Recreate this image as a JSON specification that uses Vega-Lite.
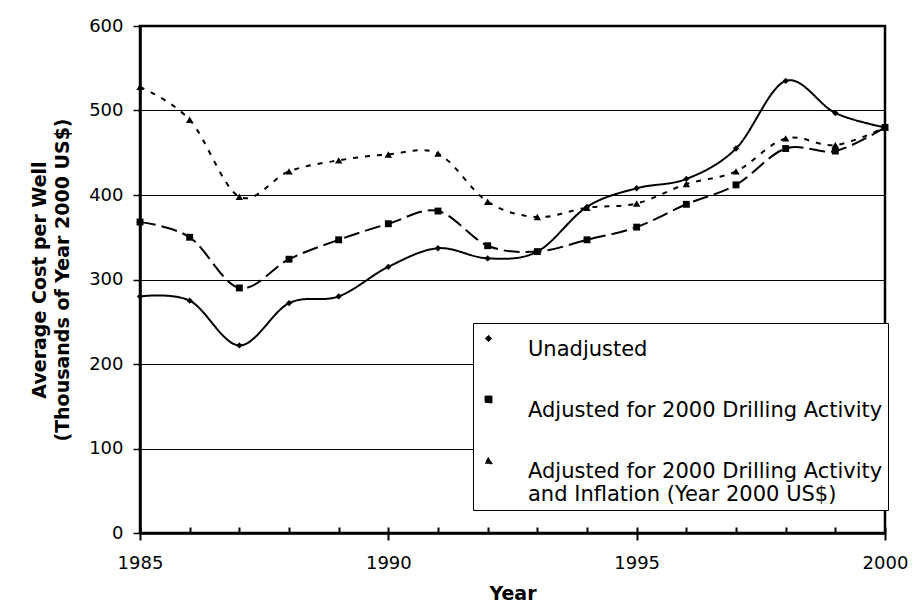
{
  "$schema": "https://vega.github.io/schema/vega-lite/v6.json",
  "autosize": "none",
  "width": 745,
  "height": 507,
  "padding": {"left": 140, "top": 26, "right": 32, "bottom": 69},
  "background": "white",
  "config": {
    "view": {"stroke": "black", "strokeWidth": 2.5},
    "font": "DejaVu Sans",
    "axis": {
      "labelFont": "DejaVu Sans",
      "labelFontSize": 18,
      "labelColor": "black",
      "titleFont": "DejaVu Sans",
      "titleFontSize": 19,
      "titleFontWeight": "bold",
      "titleColor": "black",
      "domainColor": "black",
      "tickColor": "black"
    },
    "legend": {
      "labelFont": "DejaVu Sans",
      "labelFontSize": 21,
      "labelColor": "black"
    }
  },
  "data": {
    "values": [
      {"year": 1985, "series": "Unadjusted", "cost": 280},
      {"year": 1986, "series": "Unadjusted", "cost": 275},
      {"year": 1987, "series": "Unadjusted", "cost": 222},
      {"year": 1988, "series": "Unadjusted", "cost": 272},
      {"year": 1989, "series": "Unadjusted", "cost": 280},
      {"year": 1990, "series": "Unadjusted", "cost": 315},
      {"year": 1991, "series": "Unadjusted", "cost": 337},
      {"year": 1992, "series": "Unadjusted", "cost": 325},
      {"year": 1993, "series": "Unadjusted", "cost": 333},
      {"year": 1994, "series": "Unadjusted", "cost": 386},
      {"year": 1995, "series": "Unadjusted", "cost": 408},
      {"year": 1996, "series": "Unadjusted", "cost": 419},
      {"year": 1997, "series": "Unadjusted", "cost": 455},
      {"year": 1998, "series": "Unadjusted", "cost": 535},
      {"year": 1999, "series": "Unadjusted", "cost": 497},
      {"year": 2000, "series": "Unadjusted", "cost": 480},
      {"year": 1985, "series": "Adjusted for 2000 Drilling Activity", "cost": 368},
      {"year": 1986, "series": "Adjusted for 2000 Drilling Activity", "cost": 350},
      {"year": 1987, "series": "Adjusted for 2000 Drilling Activity", "cost": 290},
      {"year": 1988, "series": "Adjusted for 2000 Drilling Activity", "cost": 324},
      {"year": 1989, "series": "Adjusted for 2000 Drilling Activity", "cost": 347},
      {"year": 1990, "series": "Adjusted for 2000 Drilling Activity", "cost": 366},
      {"year": 1991, "series": "Adjusted for 2000 Drilling Activity", "cost": 381},
      {"year": 1992, "series": "Adjusted for 2000 Drilling Activity", "cost": 340},
      {"year": 1993, "series": "Adjusted for 2000 Drilling Activity", "cost": 333},
      {"year": 1994, "series": "Adjusted for 2000 Drilling Activity", "cost": 347},
      {"year": 1995, "series": "Adjusted for 2000 Drilling Activity", "cost": 362},
      {"year": 1996, "series": "Adjusted for 2000 Drilling Activity", "cost": 389},
      {"year": 1997, "series": "Adjusted for 2000 Drilling Activity", "cost": 412},
      {"year": 1998, "series": "Adjusted for 2000 Drilling Activity", "cost": 455},
      {"year": 1999, "series": "Adjusted for 2000 Drilling Activity", "cost": 452},
      {"year": 2000, "series": "Adjusted for 2000 Drilling Activity", "cost": 480},
      {"year": 1985, "series": "Adjusted for 2000 Drilling Activity and Inflation (Year 2000 US$)", "cost": 528},
      {"year": 1986, "series": "Adjusted for 2000 Drilling Activity and Inflation (Year 2000 US$)", "cost": 489},
      {"year": 1987, "series": "Adjusted for 2000 Drilling Activity and Inflation (Year 2000 US$)", "cost": 398},
      {"year": 1988, "series": "Adjusted for 2000 Drilling Activity and Inflation (Year 2000 US$)", "cost": 428},
      {"year": 1989, "series": "Adjusted for 2000 Drilling Activity and Inflation (Year 2000 US$)", "cost": 441},
      {"year": 1990, "series": "Adjusted for 2000 Drilling Activity and Inflation (Year 2000 US$)", "cost": 448},
      {"year": 1991, "series": "Adjusted for 2000 Drilling Activity and Inflation (Year 2000 US$)", "cost": 449},
      {"year": 1992, "series": "Adjusted for 2000 Drilling Activity and Inflation (Year 2000 US$)", "cost": 392},
      {"year": 1993, "series": "Adjusted for 2000 Drilling Activity and Inflation (Year 2000 US$)", "cost": 374},
      {"year": 1994, "series": "Adjusted for 2000 Drilling Activity and Inflation (Year 2000 US$)", "cost": 385},
      {"year": 1995, "series": "Adjusted for 2000 Drilling Activity and Inflation (Year 2000 US$)", "cost": 390},
      {"year": 1996, "series": "Adjusted for 2000 Drilling Activity and Inflation (Year 2000 US$)", "cost": 413},
      {"year": 1997, "series": "Adjusted for 2000 Drilling Activity and Inflation (Year 2000 US$)", "cost": 428},
      {"year": 1998, "series": "Adjusted for 2000 Drilling Activity and Inflation (Year 2000 US$)", "cost": 467},
      {"year": 1999, "series": "Adjusted for 2000 Drilling Activity and Inflation (Year 2000 US$)", "cost": 459},
      {"year": 2000, "series": "Adjusted for 2000 Drilling Activity and Inflation (Year 2000 US$)", "cost": 480}
    ]
  },
  "encoding": {
    "x": {
      "field": "year",
      "type": "quantitative",
      "scale": {"domain": [1985, 2000], "nice": false, "zero": false},
      "axis": null
    },
    "y": {
      "field": "cost",
      "type": "quantitative",
      "scale": {"domain": [0, 600], "nice": false, "zero": true},
      "axis": null
    }
  },
  "layer": [
    {
      "mark": {"type": "line", "interpolate": "cardinal", "strokeWidth": 2, "color": "black"},
      "encoding": {
        "x": {
          "field": "year",
          "type": "quantitative",
          "axis": {
            "orient": "bottom",
            "title": "Year",
            "values": [1985, 1990, 1995, 2000],
            "format": "d",
            "grid": false,
            "labelFlush": false,
            "domainWidth": 2.5,
            "tickSize": 7,
            "tickWidth": 2,
            "labelPadding": 14,
            "titlePadding": 12
          }
        },
        "y": {
          "field": "cost",
          "type": "quantitative",
          "axis": {
            "title": ["Average Cost per Well", "(Thousands of Year 2000 US$)"],
            "titleLineHeight": 23,
            "titlePadding": 16,
            "values": [0, 100, 200, 300, 400, 500, 600],
            "grid": true,
            "gridColor": "black",
            "gridWidth": 1,
            "gridOpacity": 1,
            "labelFlush": false,
            "domainWidth": 2.5,
            "tickSize": 7,
            "tickWidth": 1.5,
            "labelPadding": 10
          }
        },
        "strokeDash": {
          "field": "series",
          "type": "nominal",
          "scale": {
            "domain": [
              "Unadjusted",
              "Adjusted for 2000 Drilling Activity",
              "Adjusted for 2000 Drilling Activity and Inflation (Year 2000 US$)"
            ],
            "range": [[1, 0], [16, 6], [5, 7]]
          },
          "legend": {
            "title": null,
            "orient": "none",
            "legendX": 333,
            "legendY": 297,
            "padding": 5,
            "strokeColor": "black",
            "fillColor": "white",
            "rowPadding": 29,
            "labelOffset": 29,
            "labelLimit": 0,
            "labelBaseline": "top",
            "symbolSize": 441,
            "symbolFillColor": "black",
            "symbolStrokeColor": "black",
            "symbolStrokeWidth": 1,
            "symbolOpacity": 1,
            "labelExpr": "datum.label == 'Adjusted for 2000 Drilling Activity and Inflation (Year 2000 US$)' ? ['Adjusted for 2000 Drilling Activity', 'and Inflation (Year 2000 US$)'] : datum.label",
            "encode": {
              "labels": {
                "dy": {"value": -12}
              }
            }
          }
        }
      }
    },
    {
      "mark": {"type": "point", "filled": true, "color": "black", "opacity": 1},
      "encoding": {
        "x": {
          "field": "year",
          "type": "quantitative",
          "axis": {
            "orient": "bottom",
            "title": null,
            "values": [1985, 1986, 1987, 1988, 1989, 1990, 1991, 1992, 1993, 1994, 1995, 1996, 1997, 1998, 1999, 2000],
            "labels": false,
            "domain": false,
            "grid": false,
            "offset": -6,
            "tickSize": 6,
            "tickWidth": 2
          }
        },
        "shape": {
          "field": "series",
          "type": "nominal",
          "scale": {
            "domain": [
              "Unadjusted",
              "Adjusted for 2000 Drilling Activity",
              "Adjusted for 2000 Drilling Activity and Inflation (Year 2000 US$)"
            ],
            "range": ["diamond", "square", "triangle-up"]
          },
          "legend": null
        },
        "size": {
          "field": "series",
          "type": "nominal",
          "scale": {
            "domain": [
              "Unadjusted",
              "Adjusted for 2000 Drilling Activity",
              "Adjusted for 2000 Drilling Activity and Inflation (Year 2000 US$)"
            ],
            "range": [40, 55, 55]
          },
          "legend": null
        }
      }
    }
  ],
  "resolve": {"axis": {"x": "independent", "y": "independent"}}
}
